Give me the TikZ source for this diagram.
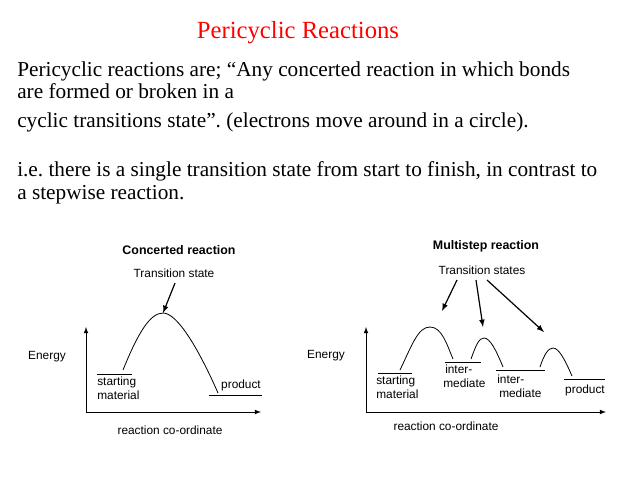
\documentclass[tikz,border=0pt]{standalone}
\usepackage{fontspec}
\setmainfont{Liberation Serif}
\setsansfont{Liberation Sans}
\begin{document}
\frenchspacing
\begin{tikzpicture}[x=0.75pt,y=-0.75pt,
  body/.style={anchor=base west,inner sep=0,font=\fontsize{15.95}{17}\selectfont},
  lab/.style={inner sep=0,font=\sffamily\fontsize{8.9}{10}\selectfont,align=left},
  ttl/.style={inner sep=0,font=\sffamily\bfseries\fontsize{9.3}{10}\selectfont},
  ln/.style={line width=0.6pt},
  ar/.style={line width=0.9pt,-latex}]
\useasboundingbox (0,0) rectangle (638,479);
\node[anchor=base,inner sep=0,text=red,font=\fontsize{18.5}{20}\selectfont] (title) at (298,38) {Pericyclic Reactions};
\node[body] (l1) at (17,76) {Pericyclic reactions are; “Any concerted reaction in which bonds};
\node[body] (l2) at (17,98) {are formed or broken in a};
\node[body] (l3) at (17,127) {cyclic transitions state”. (electrons move around in a circle).};
\node[body] (l4) at (17,176) {i.e. there is a single transition state from start to finish, in contrast to};
\node[body] (l5) at (17,199) {a stepwise reaction.};
% left
\coordinate (ly) at (86,327); \coordinate (lo) at (86,412); \coordinate (lx) at (261,412);
\draw[ln,-latex] (lo) -- (ly); \draw[ln,-latex] (lo) -- (lx);
\node[ttl] (ct) at (179,250) {Concerted reaction};
\node[lab] (lts) at (174,273) {Transition state};
\node[lab] (len) at (47,357) {Energy};
\node[lab] (lrc) at (170,430) {reaction co-ordinate};
\coordinate (ls1) at (97,374); \coordinate (ls2) at (132,374);
\draw[ln] (ls1) -- (ls2);
\node[lab,anchor=north west] (lsm) at (97,377) {starting\\material};
\coordinate (lp1) at (209,395); \coordinate (lp2) at (262,395);
\draw[ln] (lp1) -- (lp2);
\node[lab] (lpr) at (241,385) {product};
\coordinate (lpk) at (163,313);
\draw[ln] (123,370) .. controls (138,333) and (150,313) .. (lpk) .. controls (178,313) and (200,352) .. (218,393);
\coordinate (la1) at (175,283);
\draw[ar] (la1) -- (lpk);
% right
\coordinate (ry) at (366,327); \coordinate (ro) at (366,412); \coordinate (rx) at (606,412);
\draw[ln,-latex] (ro) -- (ry); \draw[ln,-latex] (ro) -- (rx);
\node[ttl] (mt) at (486,246) {Multistep reaction};
\node[lab] (rts) at (482,270) {Transition states};
\node[lab] (ren) at (326,356) {Energy};
\node[lab] (rrc) at (446,426) {reaction co-ordinate};
\draw[ln] (378,373) -- (412,373);
\node[lab,anchor=north west] (rsm) at (376,376) {starting\\material};
\draw[ln] (445,362) -- (481,362);
\node[lab,anchor=north west] (ri1) at (443,365) {\,inter-\\mediate};
\draw[ln] (496,370) -- (545,370);
\node[lab,anchor=north west] (ri2) at (497,375) {inter-\\\,mediate};
\draw[ln] (564,379) -- (605,379);
\node[lab] (rpr) at (585,390) {product};
\draw[ln] (400,370) .. controls (412,345) and (418,327) .. (430,327) .. controls (442,327) and (447,345) .. (453,359);
\draw[ln] (471,359) .. controls (476,345) and (479,338) .. (484,338) .. controls (490,338) and (496,350) .. (503,367);
\draw[ln] (540,367) .. controls (544,355) and (548,348) .. (553,348) .. controls (559,348) and (565,360) .. (572,376);
\coordinate (rt1) at (442,311); \coordinate (rt2) at (483,327); \coordinate (rt3) at (544,332);
\draw[ar] (457,280) -- (rt1);
\draw[ar] (476,280) -- (rt2);
\draw[ar] (487,280) -- (rt3);
\end{tikzpicture}
\end{document}
